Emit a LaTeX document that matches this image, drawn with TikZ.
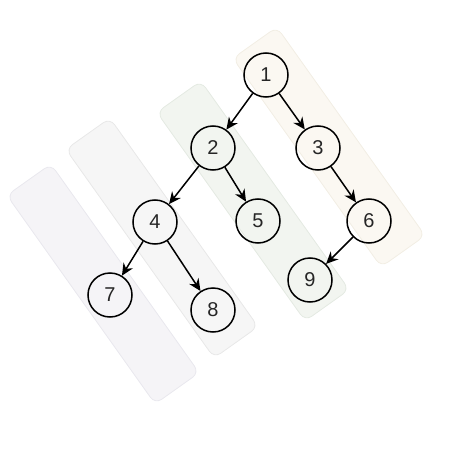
\documentclass[tikz,border=0pt]{standalone}
\usepackage{fontspec}
\setmainfont{Liberation Sans}
\usetikzlibrary{arrows.meta}
\definecolor{bandA}{HTML}{FBF8F2}
\definecolor{bandAb}{HTML}{F2EEE4}
\definecolor{bandB}{HTML}{F2F5F0}
\definecolor{bandBb}{HTML}{E4EAE2}
\definecolor{bandC}{HTML}{F6F6F6}
\definecolor{bandCb}{HTML}{E8E8E8}
\definecolor{bandD}{HTML}{F5F4F7}
\definecolor{bandDb}{HTML}{E9E8EE}
\tikzset{
  band/.style={draw, line width=0.8pt, rounded corners=8pt, minimum width=54pt, minimum height=256pt, rotate=35.4, inner sep=0pt},
  vert/.style={circle, draw=black, line width=1.5pt, minimum size=44pt, inner sep=0pt, font=\fontsize{20}{20}\selectfont, text=black!85},
  edge/.style={line width=1.5pt, -{Stealth[length=12pt,width=11pt]}}
}
\begin{document}
\begin{tikzpicture}[x=1pt,y=-1pt]
\useasboundingbox (0,0) rectangle (474,460);
\node[band, fill=bandD, draw=bandDb] (bd) at (103,284) {};
\node[band, fill=bandC, draw=bandCb] (bc) at (162,238) {};
\node[band, fill=bandB, draw=bandBb] (bb) at (253,201) {};
\node[band, fill=bandA, draw=bandAb] (ba) at (329,147) {};
\node[vert] (n1) at (266,75) {1};
\node[vert] (n2) at (213,148) {2};
\node[vert] (n3) at (318,148) {3};
\node[vert] (n4) at (155,222) {4};
\node[vert] (n5) at (258,221) {5};
\node[vert] (n6) at (369,221) {6};
\node[vert] (n7) at (110,295) {7};
\node[vert] (n8) at (213,310) {8};
\node[vert] (n9) at (310,280) {9};
\draw[edge] (n1) -- (n2);
\draw[edge] (n1) -- (n3);
\draw[edge] (n2) -- (n4);
\draw[edge] (n2) -- (n5);
\draw[edge] (n3) -- (n6);
\draw[edge] (n4) -- (n7);
\draw[edge] (n4) -- (n8);
\draw[edge] (n6) -- (n9);
\end{tikzpicture}
\end{document}
